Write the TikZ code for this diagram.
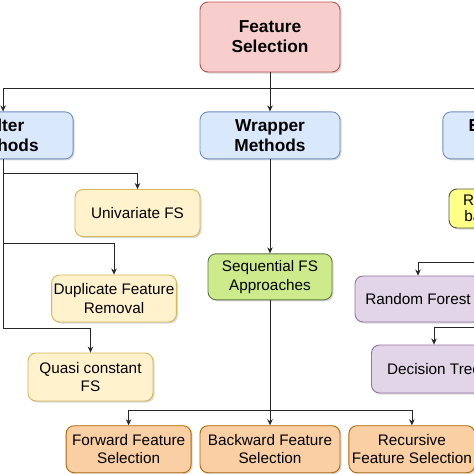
\documentclass[tikz,border=0pt]{standalone}
\usepackage{fontspec}
\setmainfont{Liberation Sans}
\usepackage{tikz}
\usetikzlibrary{arrows.meta,positioning,shadows}
\definecolor{rootFill}{HTML}{F8CECC}
\definecolor{rootDraw}{HTML}{B85450}
\definecolor{headFill}{HTML}{DAE8FC}
\definecolor{headDraw}{HTML}{6C8EBF}
\definecolor{filtFill}{HTML}{FFF2CC}
\definecolor{filtDraw}{HTML}{D6B656}
\definecolor{seqFill}{HTML}{CDEB8B}
\definecolor{seqDraw}{HTML}{5E7A45}
\definecolor{regFill}{HTML}{FFFF88}
\definecolor{regDraw}{HTML}{55563A}
\definecolor{embFill}{HTML}{E1D5E7}
\definecolor{embDraw}{HTML}{9673A6}
\definecolor{wrapFill}{HTML}{F9CFA3}
\definecolor{wrapDraw}{HTML}{B46504}
\tikzset{
    fs box/.style={
        draw,
        rounded corners=8pt,
        align=center,
        inner sep=2pt,
        line width=0.9pt,
        minimum width=125pt,
        minimum height=47pt,
        font=\fontsize{15.3}{18.5}\selectfont,
        drop shadow={shadow xshift=1.5pt, shadow yshift=-1.5pt, opacity=0.25, fill=black!60}
    },
    fs head/.style={fs box, minimum width=140pt, fill=headFill, draw=headDraw,
        font=\bfseries\fontsize{17.3}{20}\selectfont},
    fs root/.style={fs head, minimum height=70pt, fill=rootFill, draw=rootDraw},
    fs filter/.style={fs box, fill=filtFill, draw=filtDraw},
    fs seq/.style={fs box, fill=seqFill, draw=seqDraw, minimum width=124pt, minimum height=46pt},
    fs wrap/.style={fs box, fill=wrapFill, draw=wrapDraw},
    fs reg/.style={fs box, fill=regFill, draw=regDraw, minimum width=126pt, minimum height=39pt,
        font=\fontsize{15.3}{16}\selectfont},
    fs emb/.style={fs box, fill=embFill, draw=embDraw},
    fs arrow/.style={-{Stealth[length=6pt,width=5.5pt]}, line width=0.8pt, draw=black!85}
}
\begin{document}
\begin{tikzpicture}[x=1pt, y=-1pt]
\useasboundingbox (0,0) rectangle (474,474);
\clip (0,0) rectangle (474,474);

% top levels
\node[fs root] (fs) at (270,37) {Feature\\Selection};
\node[fs head, below=39pt of fs] (wrapper) {Wrapper\\Methods};
\node[fs head, left=126pt of wrapper] (filter) {Filter\\Methods};
\node[fs head, right=102pt of wrapper] (embedded) {Embedded\\Methods};

\coordinate (split) at ([yshift=-16pt]fs.south);
\draw[fs arrow] (fs.south) -- (wrapper.north);
\draw[fs arrow] (split) -| (filter.north);
\draw[fs arrow] (split) -| (embedded.north);

% filter side
\node[fs filter] (univ) at (137.5,213) {Univariate FS};
\node[fs filter, minimum width=124pt] (dup) at (114,298.5) {Duplicate Feature\\Removal};
\node[fs filter, minimum height=48pt] (quasi) at (90.5,377) {Quasi constant\\FS};

\coordinate (uj) at ([yshift=16pt]univ.north);
\coordinate (dj) at ([yshift=31pt]dup.north);
\draw[fs arrow] (filter.south) |- ([yshift=24pt]quasi.north) -- (quasi.north);
\draw[fs arrow] (filter.south |- uj) -| (univ.north);
\draw[fs arrow] (filter.south |- dj) -| (dup.north);

% wrapper side
\node[fs seq, below=94pt of wrapper] (seq) {Sequential FS\\Approaches};
\node[fs wrap, minimum width=140pt, below=125pt of seq] (backward) {Backward Feature\\Selection};
\node[fs wrap, left=8pt of backward] (forward) {Forward Feature\\Selection};
\node[fs wrap, minimum width=126pt, right=8pt of backward] (recursive) {Recursive\\Feature Selection};

\coordinate (sj) at ([yshift=15pt]backward.north);
\draw[fs arrow] (wrapper.south) -- (seq.north);
\draw[fs arrow] (seq.south) -- (backward.north);
\draw[fs arrow] (sj) -| (forward.north);
\draw[fs arrow] (sj) -| (recursive.north);

% embedded side
\node[fs reg] (reg) at (512,208.5) {Regularization\\based models};
\node[fs emb, minimum width=126pt, minimum height=46pt] (rf) at (418,299) {Random Forest};
\node[fs emb, minimum height=48pt] (dt) at (434,369) {Decision Tree};

\draw[fs arrow] (embedded.south) -- (reg.north);
\draw[fs arrow] (reg.south) |- ([yshift=13pt]rf.north) -- (rf.north);
\draw[fs arrow] (reg.south) |- ([yshift=17pt]dt.north) -- (dt.north);
\end{tikzpicture}
\end{document}
